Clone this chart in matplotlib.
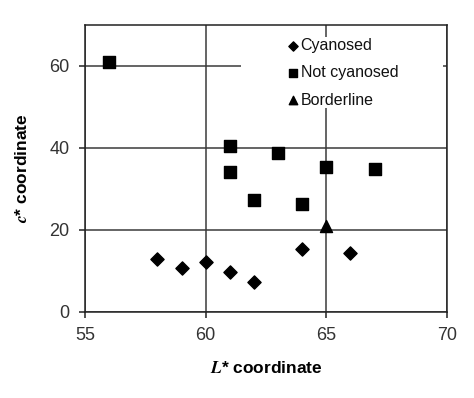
import matplotlib
matplotlib.use('Agg')
import matplotlib.pyplot as plt
from matplotlib.patches import Rectangle

plt.rcParams['font.family'] = ['Liberation Sans', 'DejaVu Sans']
plt.rcParams['mathtext.fontset'] = 'stix'

# Cyanosed
cyan_L = [58, 59, 60, 61, 62, 64, 66]
cyan_c = [13.0, 10.8, 12.3, 9.8, 7.3, 15.4, 14.5]
# Not cyanosed
notcyan_L = [56, 61, 61, 62, 63, 64, 65, 67]
notcyan_c = [60.9, 40.4, 34.1, 27.3, 38.8, 26.3, 35.4, 34.8]
# Borderline
border_L = [65]
border_c = [21.0]

x_ticks = [55, 60, 65, 70]
y_ticks = [0, 20, 40, 60]

fig = plt.figure(figsize=(4.74, 3.98), dpi=100)
ax = fig.add_axes([0.1793, 0.2161, 0.7637, 0.7211])

ax.scatter(cyan_L, cyan_c, marker='D', s=45, color='black', zorder=3, label='Cyanosed')
ax.scatter(notcyan_L, notcyan_c, marker='s', s=68, color='black', zorder=3, label='Not cyanosed')
ax.scatter(border_L, border_c, marker='^', s=75, color='black', zorder=3, label='Borderline')

ax.set_xlim(55, 70)
ax.set_ylim(0, 70)
ax.set_xticks(x_ticks)
ax.set_yticks(y_ticks)
ax.set_axisbelow(True)
ax.grid(True, color='#3a3a3a', linewidth=1.1)
for s in ax.spines.values():
    s.set_linewidth(1.1)
    s.set_color('#222222')
ax.tick_params(axis='both', direction='out', length=4, width=1.1, color='#222222',
               labelsize=13, labelcolor='#333333', pad=7)

# white box behind the legend hides the grid lines there
ax.add_patch(Rectangle((0.431, 0.711), 0.558, 0.247, transform=ax.transAxes,
                       facecolor='white', edgecolor='none', zorder=1))

leg = ax.legend(loc='upper left', bbox_to_anchor=(0.525, 1.0), frameon=False,
                fontsize=11.5, handlelength=0.6, handletextpad=0.2, labelspacing=0.78,
                markerscale=0.7, borderpad=0.3)
for t in leg.get_texts():
    t.set_color('#111111')

ax.set_xlabel(r'$\mathbfit{L}$* coordinate', fontsize=12.5, fontweight='bold', labelpad=11)
ax.set_ylabel(r'$\mathbfit{c}$* coordinate', fontsize=12.5, fontweight='bold', labelpad=14)

fig.savefig('out.png', dpi=100)
